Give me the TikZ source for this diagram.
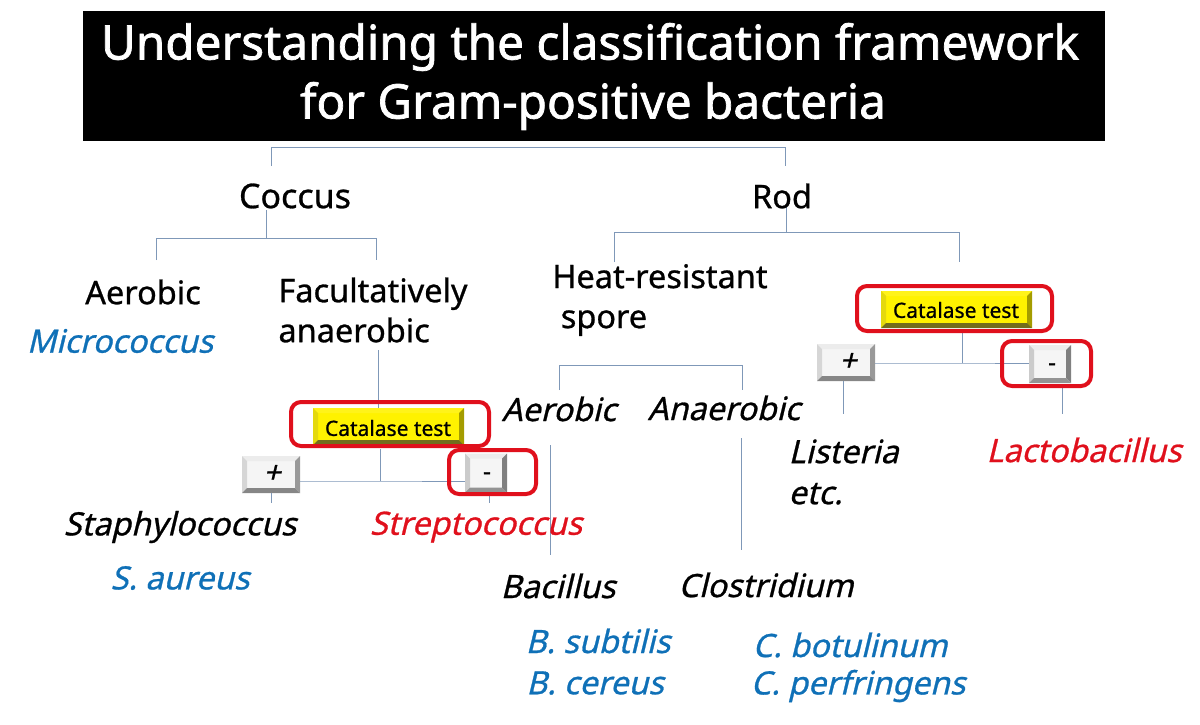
\documentclass[tikz,border=0pt]{standalone}
\usepackage{fontspec}
\setmainfont{Noto Sans}[RawFeature={embolden=0.8}]
\newfontfamily\oblfont{Noto Sans}[FakeSlant=0.24,RawFeature={embolden=0.8}]
\newfontfamily\titlefont{Noto Sans}[RawFeature={embolden=1.5}]
\definecolor{treeline}{HTML}{7F98B8}
\definecolor{specblue}{HTML}{0F70B7}
\definecolor{ringred}{HTML}{E0101C}
\tikzset{
  tree/.style={draw=treeline,line width=1pt},
  ring/.style={draw=ringred,line width=4pt,rounded corners=10pt},
  head/.style={font=\fontsize{32.5}{36}\selectfont,align=left},
  genus/.style={font=\fontsize{32.2}{36}\selectfont\oblfont},
  species/.style={font=\fontsize{32.2}{36}\selectfont\oblfont,text=specblue},
  redname/.style={font=\fontsize{32.2}{36}\selectfont\oblfont,text=ringred},
  titleline/.style={text=white,font=\fontsize{47.7}{50}\titlefont},
}
% bevelled button: centre, half width, half height, colours
\newcommand{\bevel}[8]{
  \fill[#5] (#1-#3,#2-#4) rectangle (#1+#3,#2+#4);
  \fill[#6] (#1-#3,#2-#4) -- (#1+#3,#2-#4) -- (#1+#3-5,#2-#4+5) -- (#1-#3+5,#2-#4+5) -- cycle;
  \fill[#6!70!#7] (#1-#3,#2-#4) -- (#1-#3+5,#2-#4+5) -- (#1-#3+5,#2+#4-5) -- (#1-#3,#2+#4) -- cycle;
  \fill[#7] (#1+#3,#2-#4) -- (#1+#3-5,#2-#4+5) -- (#1+#3-5,#2+#4-5) -- (#1+#3,#2+#4) -- cycle;
  \fill[#8] (#1-#3,#2+#4) -- (#1-#3+5,#2+#4-5) -- (#1+#3-5,#2+#4-5) -- (#1+#3,#2+#4) -- cycle;
}
\begin{document}
\begin{tikzpicture}[x=1pt,y=-1pt]
\useasboundingbox (0,0) rectangle (1200,724);
\fill[black] (83,11) rectangle (1105,141);
\draw (590,47) node[titleline] (title1) {Understanding the classification framework};
\draw (593,106) node[titleline] (title2) {for Gram-positive bacteria};

% tree lines
\coordinate (rootL) at (271,166);
\coordinate (rootR) at (785,166);
\coordinate (cocStem) at (266,210);
\coordinate (cocMid) at (266,238);
\coordinate (cocL) at (156,260);
\coordinate (cocR) at (376,260);
\coordinate (rodStem) at (786,207);
\coordinate (rodMid) at (786,232);
\coordinate (rodL) at (614,262);
\coordinate (rodR) at (959,262);
\coordinate (sporeL) at (559,390);
\coordinate (sporeR) at (742,390);
\coordinate (aerTop) at (550,445);
\coordinate (aerEnd) at (550,555);
\coordinate (anaTop) at (741,438);
\coordinate (anaEnd) at (741,550);
\coordinate (facTop) at (378,350);
\coordinate (facEnd) at (378,408);
\coordinate (catLstem) at (380,449);
\coordinate (catLmid) at (380,481);
\coordinate (catRstem) at (962,333);
\coordinate (catRmid) at (962,363);
\coordinate (plusLside) at (300,481);
\coordinate (minusLside) at (465,481);
\coordinate (plusLbot) at (271,493);
\coordinate (minusLbot) at (489,496);
\coordinate (plusLend) at (271,503);
\coordinate (minusLend) at (489,503);
\coordinate (plusRside) at (875,363);
\coordinate (minusRside) at (1029,363);
\coordinate (plusRbot) at (843,381);
\coordinate (minusRbot) at (1062,388);
\coordinate (plusRend) at (843,414);
\coordinate (minusRend) at (1062,414);
\draw[tree] (rootL) |- (rootR |- 0,147) -- (rootR);
\draw[tree] (cocStem) -- (cocMid);
\draw[tree] (cocL) |- (cocR |- cocMid) -- (cocR);
\draw[tree] (rodStem) -- (rodMid);
\draw[tree] (rodL) |- (rodR |- rodMid) -- (rodR);
\draw[tree] (sporeL) |- (sporeR |- 0,365) -- (sporeR);
\draw[tree] (aerTop) -- (aerEnd);
\draw[tree] (anaTop) -- (anaEnd);
\draw[tree] (facTop) -- (facEnd);
\draw[tree] (catLstem) -- (catLmid);
\draw[tree] (catRstem) -- (catRmid);

% labels
\draw (295,196) node[head,font=\fontsize{34}{36}\selectfont] (coccus) {Coccus};
\draw (782,196) node[head] (rod) {Rod};
\draw (143,292) node[head] (aerobicC) {Aerobic};
\draw (373,310) node[head,font=\fontsize{32.5}{40}\selectfont] (facult) {Facultatively\\anaerobic};
\draw (660,300) node[head,font=\fontsize{32.5}{40}\selectfont] (heat) {Heat-resistant\\\ spore};
\draw (120,341) node[species] (micro) {Micrococcus};
\draw (559,409) node[genus] (aerobicR) {Aerobic};
\draw (724,408) node[genus] (anaerobicR) {Anaerobic};
\draw (180,527) node[genus] (staph) {Staphylococcus};
\draw (180,578) node[species] (aureus) {S. aureus};
\draw (476,527) node[redname] (strep) {Streptococcus};
\draw (558,586) node[genus] (bacillus) {Bacillus};
\draw (766,585) node[genus] (clostr) {Clostridium};
\draw (598,641) node[species] (subtilis) {B. subtilis};
\draw (595,683) node[species] (cereus) {B. cereus};
\draw (850,645) node[species] (botul) {C. botulinum};
\draw (858,686) node[species] (perfr) {C. perfringens};
\draw (785,472) node[genus,align=left,anchor=west,font=\fontsize{32.2}{41}\oblfont] (listeria) {Listeria\\etc.};
\draw (1084,450) node[redname] (lacto) {Lactobacillus};

% buttons, left branch
\bevel{388.5}{426.5}{75.5}{18.5}{yellow}{yellow!90!white}{olive!80!yellow}{olive!75!black}
\draw (388,428) node[font=\fontsize{21}{24}\selectfont] (catL) {Catalase test};
\bevel{271}{474.5}{29}{18.5}{white!92!gray}{white!85!gray}{gray!80}{gray!95}
\draw (272,474) node[font=\fontsize{30}{32}\oblfont] (plusL) {+};
\bevel{486}{473}{21}{19.5}{white!92!gray}{white!85!gray}{gray}{gray!85}
\draw (487,476) node[font=\fontsize{24}{26}\selectfont] (minusL) {-};
\draw[tree] (plusLside) -- (catLmid) -- (minusLside);
\draw[tree] (plusLbot) -- (plusLend);
\draw[tree] (minusLbot) -- (minusLend);
\draw[ring] (291,402) rectangle (489,446);
\draw[ring] (449,450) rectangle (536,494);

% buttons, right branch
\bevel{956.5}{309.5}{75.5}{18.5}{yellow}{yellow!90!white}{olive!80!yellow}{olive!75!black}
\draw (956,310) node[font=\fontsize{21}{24}\selectfont] (catR) {Catalase test};
\bevel{846}{362.5}{29}{18.5}{white!92!gray}{white!85!gray}{gray!80}{gray!95}
\draw (848,362) node[font=\fontsize{30}{32}\oblfont] (plusR) {+};
\bevel{1050}{364}{21}{19}{white!92!gray}{white!85!gray}{gray}{gray!85}
\draw (1052,367) node[font=\fontsize{24}{26}\selectfont] (minusR) {-};
\draw[tree] (plusRside) -- (catRmid) -- (minusRside);
\draw[tree] (plusRbot) -- (plusRend);
\draw[tree] (minusRbot) -- (minusRend);
\draw[ring] (857,286) rectangle (1052,331);
\draw[ring] (1002,341) rectangle (1091,386);
\end{tikzpicture}
\end{document}
